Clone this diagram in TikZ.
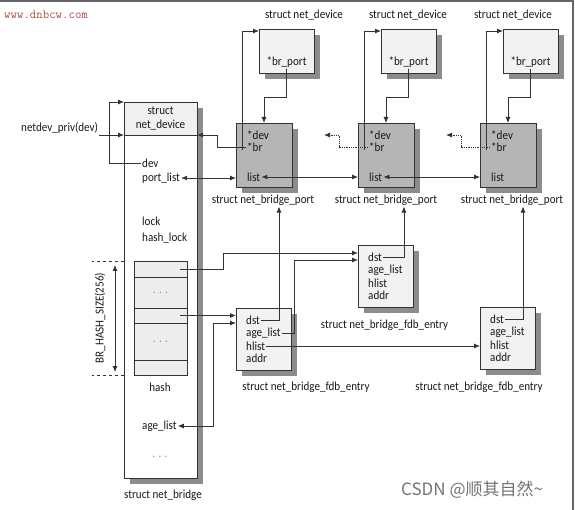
\documentclass[tikz,border=0pt]{standalone}
\usepackage{fontspec}
\setmainfont[FakeStretch=0.9]{Carlito}
\newfontfamily\cjkfont{Noto Sans CJK SC}
\usetikzlibrary{arrows.meta,calc}
\definecolor{wmred}{RGB}{170,80,70}
\definecolor{shadc}{RGB}{140,140,140}
\begin{document}
\begin{tikzpicture}[x=1pt,y=-1pt,
  ln/.style={draw=black!80, line width=0.8pt},
  arr/.style={ln, -{Latex[length=6pt,width=5pt]}},
  arrb/.style={ln, {Latex[length=6pt,width=5pt]}-{Latex[length=6pt,width=5pt]}},
  boxst/.style={draw=black!80, line width=0.8pt, anchor=north west, inner sep=0pt, outer sep=0pt},
  shbox/.style={fill=shadc, anchor=north west, inner sep=0pt, outer sep=0pt},
  devbox/.style={boxst, fill=black!5, minimum width=55pt, minimum height=44pt},
  portbox/.style={boxst, fill=black!29, minimum width=56pt, minimum height=64pt},
  fdbbox/.style={boxst, fill=black!5, minimum width=55pt, minimum height=62pt},
  cell/.style={draw=black!80, line width=0.8pt, fill=black!7, anchor=north west, inner sep=0pt, outer sep=0pt, minimum width=53pt},
  fld/.style={anchor=west, inner sep=1pt, text=black!90, font=\fontsize{12.3}{14}\selectfont},
  lbl/.style={inner sep=1pt, text=black!90, font=\fontsize{12.3}{14}\selectfont},
  dts/.style={inner sep=1pt, text=black!45, font=\fontsize{12.3}{14}\selectfont}]
\useasboundingbox (0,0) rectangle (575,510);

% shadows
\node[shbox, minimum width=73pt, minimum height=376pt] (snb) at (130,108) {};
\node[shbox, minimum width=55pt, minimum height=44pt] (sd1) at (265,35) {};
\node[shbox, minimum width=55pt, minimum height=44pt] (sd2) at (387,35) {};
\node[shbox, minimum width=55pt, minimum height=44pt] (sd3) at (509,35) {};
\node[shbox, minimum width=56pt, minimum height=64pt] (sp1) at (242,129) {};
\node[shbox, minimum width=56pt, minimum height=64pt] (sp2) at (364,129) {};
\node[shbox, minimum width=56pt, minimum height=64pt] (sp3) at (486,129) {};
\node[shbox, minimum width=55pt, minimum height=62pt] (sf1) at (242,314) {};
\node[shbox, minimum width=55pt, minimum height=62pt] (sf2) at (364,251) {};
\node[shbox, minimum width=55pt, minimum height=62pt] (sf3) at (486,313) {};

\draw[black!60, line width=2pt] (0,1) -- (573,1) -- (573,510);
\node[anchor=west, inner sep=0pt, text=wmred, font=\ttfamily\fontsize{12.5}{14}\selectfont] (wm) at (4,15) {www.dnbcw.com};

% net_bridge
\node[boxst, fill=white, minimum width=73pt, minimum height=376pt] (nb) at (124,102) {};
\node[draw=black!80, line width=0.8pt, fill=black!6, anchor=north west, minimum width=73pt, minimum height=33pt, inner sep=0pt, outer sep=0pt, align=center, text=black!90, font=\fontsize{12.3}{13.5}\selectfont] (nbhead) at (124,102) {struct\\net\_device};
\node[fld] (fdev) at (141,163) {dev};
\node[fld] (fportlist) at (141,178) {port\_list};
\node[fld] (flock) at (141,221) {lock};
\node[fld] (fhashlock) at (141,238) {hash\_lock};
\node[cell, minimum height=16pt] (h1) at (134,261) {};
\node[cell, minimum height=31pt] (h2) at (h1.south west) {};
\node[cell, minimum height=15pt] (h3) at (h2.south west) {};
\node[cell, minimum height=37pt] (h4) at (h3.south west) {};
\node[cell, minimum height=15pt] (h5) at (h4.south west) {};
\node[dts] (d1) at (h2.center) {. . .};
\node[dts] (d2) at (h4.center) {. . .};
\node[lbl] (fhash) at (160,387) {hash};
\node[fld] (fagelist) at (141,426) {age\_list};
\node[dts] (d3) at (160,457) {. . .};
\node[lbl] (nblbl) at (163,495) {struct net\_bridge};

\node[fld] (ndp) at (20,128) {netdev\_priv(dev)};
\node[lbl, rotate=90] (hsz) at (100,318) {BR\_HASH\_SIZE(256)};
\draw[ln, dashed] (nb.west |- h1.north) -- ++(-32,0);
\draw[ln, dashed] (nb.west |- h5.south) -- ++(-32,0);
\draw[arrb] ($(nb.west |- h1.north)+(-9,4)$) -- ($(nb.west |- h5.south)+(-9,-3)$);

% net_device boxes
\node[devbox] (dev1) at (259,29) {};
\node[devbox] (dev2) at (381,29) {};
\node[devbox] (dev3) at (503,29) {};
\node[lbl] (brp1) at ($(dev1.center)+(0,11)$) {*br\_port};
\node[lbl] (brp2) at ($(dev2.center)+(0,11)$) {*br\_port};
\node[lbl] (brp3) at ($(dev3.center)+(0,11)$) {*br\_port};
\node[lbl] (dt1) at (304,15) {struct net\_device};
\node[lbl] (dt2) at (408,15) {struct net\_device};
\node[lbl] (dt3) at (513,15) {struct net\_device};

% net_bridge_port boxes
\foreach \i/\x in {1/236,2/358,3/480}{
  \node[portbox] (port\i) at (\x,123) {};
  \node[fld] (pdev\i) at ($(port\i.north west)+(10,12)$) {*dev};
  \node[fld] (pbr\i) at ($(port\i.north west)+(10,24)$) {*br};
  \node[fld] (plist\i) at ($(port\i.north west)+(10,54)$) {list};
}
\node[lbl] (pl1) at (263,200) {struct net\_bridge\_port};
\node[lbl] (pl2) at (386,200) {struct net\_bridge\_port};
\node[lbl] (pl3) at (512,200) {struct net\_bridge\_port};

% fdb entries
\node[fdbbox] (fdb1) at (236,308) {};
\node[fdbbox] (fdb2) at (358,245) {};
\node[fdbbox] (fdb3) at (480,307) {};
\foreach \i in {1,2,3}{
  \node[fld] (dst\i) at ($(fdb\i.north west)+(9,12)$) {dst};
  \node[fld] (age\i) at ($(fdb\i.north west)+(9,25)$) {age\_list};
  \node[fld] (hl\i) at ($(fdb\i.north west)+(9,38)$) {hlist};
  \node[fld] (ad\i) at ($(fdb\i.north west)+(9,50)$) {addr};
}
\node[lbl] (fl1) at (306,387) {struct net\_bridge\_fdb\_entry};
\node[lbl] (fl2) at (384.5,325) {struct net\_bridge\_fdb\_entry};
\node[lbl] (fl3) at (479,387) {struct net\_bridge\_fdb\_entry};

% connectors
\draw[arr] ($(ndp.east)+(0,7)$) -- (nbhead.south west);
\draw[arr] (fdev.west) -- ++(-32,0) |- (nb.north west);
\draw[arrb] (fportlist.east) -- (fportlist.east -| port1.west);
\draw[arrb] (plist1.east) -- (plist1.east -| port2.west);
\draw[arrb] (plist2.east) -- (plist2.east -| port3.west);
\foreach \i in {1,2,3}{
  \draw[arr] ($(port\i.north west)+(6,27)$) |- ($(dev\i.north west)+(0,2)$);
  \draw[arr] (brp\i.south) |- ($(port\i.north)+(0,-26)$) -- (port\i.north);
}
\draw[arr] (pbr1.west) -- ++(-29,0) |- (nbhead.south east);
\draw[arr, densely dotted] (pbr2.west) -- ++(-29,0) |- ++(-15,-12);
\draw[arr, densely dotted] (pbr3.west) -- ++(-29,0) |- ++(-15,-12);
\draw[arr] ([xshift=-7pt]h1.east) -- ++(43,0) |- ($(fdb2.north west)+(0,8)$);
\draw[arr] ([xshift=-7pt]h3.east) -- (h3.east -| fdb1.west);
\draw[arrb] (fagelist.east) -- ++(36,0) |- ($(fdb1.north west)+(0,15)$);
\draw[arr] (dst1.east) -| ($(pl1.south)+(16,0)$);
\draw[arr] (age1.east) -- ++(13,0) |- ($(fdb2.north west)+(0,15)$);
\draw[arr] (hl1.east) -- (hl1.east -| fdb3.west);
\draw[arr] (dst2.east) -| ($(pl2.south)+(18,0)$);
\draw[arr] (dst3.east) -| ($(pl3.south)+(11,0)$);

\node[anchor=west, inner sep=0pt, text=black!55, font=\cjkfont\fontsize{17}{19}\selectfont] (csdn) at (401,490) {CSDN @顺其自然\textasciitilde};
\end{tikzpicture}
\end{document}
